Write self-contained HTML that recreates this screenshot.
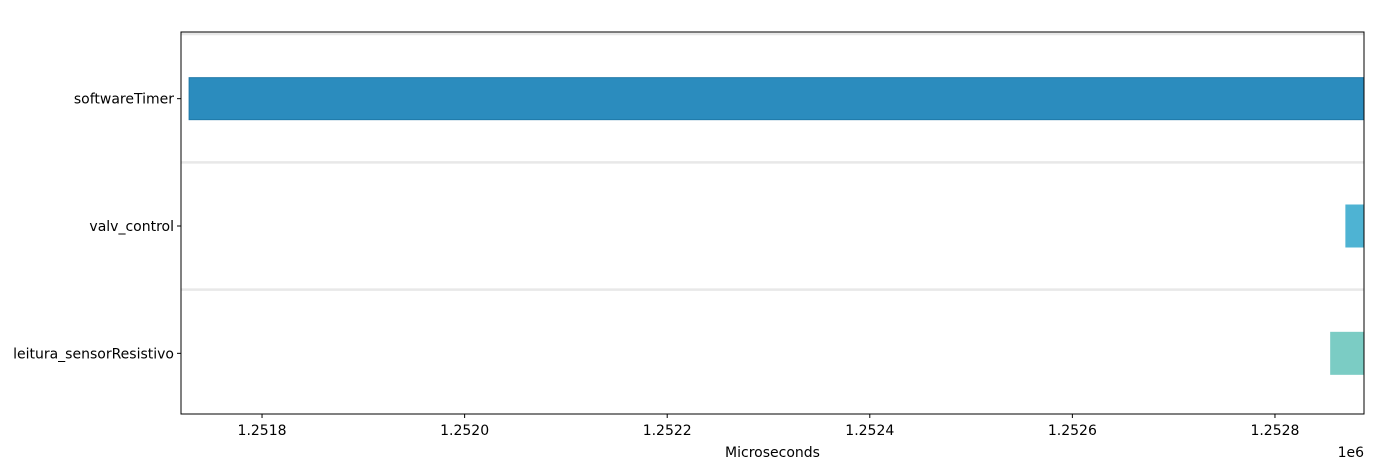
<!DOCTYPE html>
<html><head><meta charset="utf-8"><style>
body{margin:0;background:#fff;}
svg text{font-family:"DejaVu Sans","Liberation Sans",sans-serif;font-size:14px;fill:#000;}
</style></head><body>
<svg width="1380" height="466" xmlns="http://www.w3.org/2000/svg" id="c"></svg>
<script>
const tasks = ["softwareTimer","valv_control","leitura_sensorResistivo"];
const starts = [1251728, 1252870, 1252855];
const ends = [1252950, 1252950, 1252950];
const colors = ["#2b8cbe","#4eb3d3","#7bccc4"];
const xTicks = [1251800,1252000,1252200,1252400,1252600,1252800];
const xTickLabels = ["1.2518","1.2520","1.2522","1.2524","1.2526","1.2528"];
const L=181,R=1364,T=32,B=414;
const xMin=1251720, xMax=1252887.9;
const x=v=>L+(v-xMin)/(xMax-xMin)*(R-L);
const rowH=(B-T)/3;
const yc=i=>T+rowH*(i+0.5)+3;
const svg=document.getElementById('c');
const NS='http://www.w3.org/2000/svg';
function mk(t,a,p){const e=document.createElementNS(NS,t);for(const k in a)e.setAttribute(k,a[k]);(p||svg).appendChild(e);return e;}
const defs=mk('defs',{});const cp=mk('clipPath',{id:'pc'},defs);mk('rect',{x:L,y:T,width:R-L,height:B-T},cp);
const g=mk('g',{'clip-path':'url(#pc)'});

[T+2,T+rowH+3,T+2*rowH+3].forEach((y,i)=>{const s=mk('line',{x1:L,x2:R,y1:y,y2:y,stroke:'#e8e8e8','stroke-width':2.5},g);
});
tasks.forEach((t,i)=>{
const r=mk('rect',{x:x(starts[i]),y:yc(i)-21,width:x(ends[i])-x(starts[i]),height:42,fill:colors[i],stroke:i==0?'#1f78a8':colors[i],'stroke-width':1},g);

const tk=mk('line',{x1:L-4,x2:L,y1:yc(i),y2:yc(i),stroke:'#000'});

const lb=mk('text',{x:L-7,y:yc(i)+5,'text-anchor':'end'});lb.textContent=t;

});
const fr=mk('rect',{x:L,y:T,width:R-L,height:B-T,fill:'none',stroke:'#000','stroke-width':1});

xTicks.forEach((v,i)=>{
const tk=mk('line',{x1:x(v),x2:x(v),y1:B,y2:B+4,stroke:'#000'});

const lb=mk('text',{x:x(v),y:B+21,'text-anchor':'middle'});lb.textContent=xTickLabels[i];

});
const off=mk('text',{x:R,y:B+43,'text-anchor':'end'});off.textContent='1e6';

const xt=mk('text',{x:(L+R)/2,y:B+43,'text-anchor':'middle'});xt.textContent='Microseconds';

</script>
</body></html>
